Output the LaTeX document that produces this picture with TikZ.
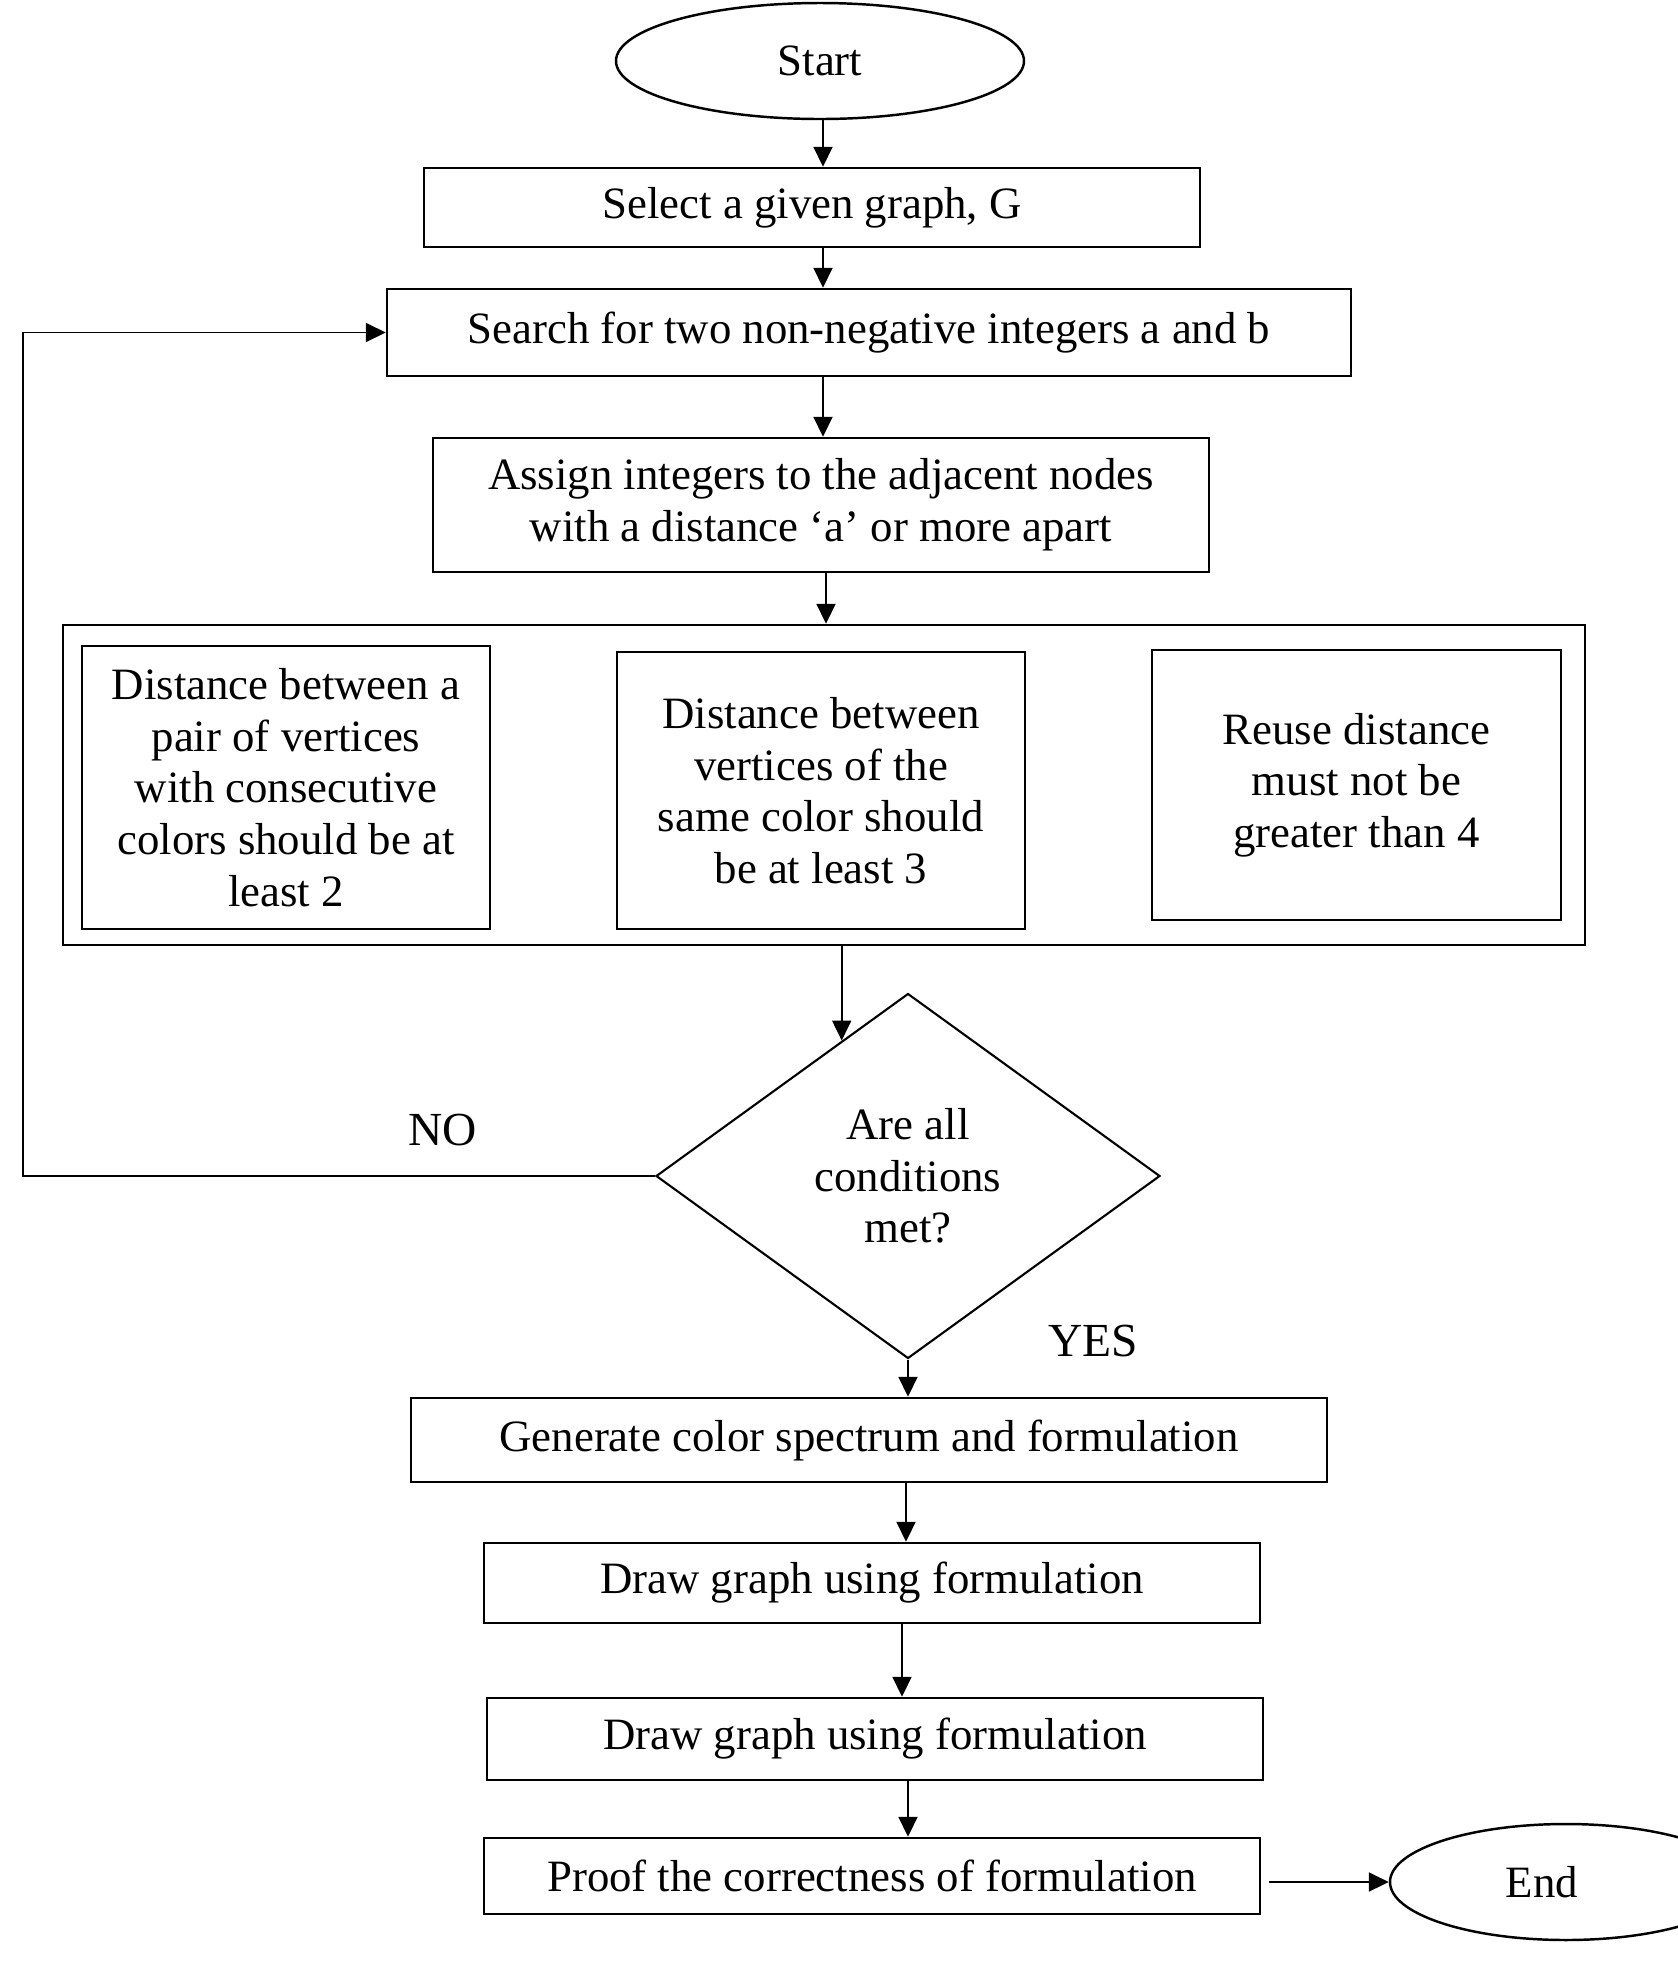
\documentclass[tikz,border=0pt]{standalone}
\usepackage{fontspec}
\setmainfont{Liberation Serif}
\usetikzlibrary{shapes.geometric,arrows.meta,calc}
\begin{document}
\begin{tikzpicture}[
  box/.style={draw, line width=1.4pt, rectangle, inner sep=0pt, align=center, font=\fontsize{25.5}{29.4}\selectfont},
  oval/.style={draw, line width=1.4pt, ellipse, inner sep=0pt, font=\fontsize{25.5}{29.4}\selectfont},
  decision/.style={draw, line width=1.2pt, diamond, inner sep=0pt, align=center, font=\fontsize{25.5}{29.4}\selectfont},
  lbl/.style={font=\fontsize{27}{30}\selectfont, inner sep=0pt},
  arr/.style={line width=1.1pt, -{Triangle[length=0.4cm,width=0.38cm]}}
]
\useasboundingbox (0,0) rectangle (33.56,-39.56);

\node[oval, minimum width=8.16cm, minimum height=2.32cm] (start) at (16.40,-1.22) {Start};
\node[box, minimum width=15.52cm, minimum height=1.58cm] (select) at (16.24,-4.15) {Select a given graph, G};
\node[box, minimum width=19.28cm, minimum height=1.74cm] (search) at (17.38,-6.65) {Search for two non-negative integers a and b};
\node[box, minimum width=15.52cm, minimum height=2.68cm] (assign) at (16.42,-10.10) {Assign integers to the adjacent nodes\\with a distance ‘a’ or more apart};
\node[box, minimum width=30.44cm, minimum height=6.40cm] (outer) at (16.48,-15.70) {};
\node[box, minimum width=8.16cm, minimum height=5.66cm] (c1) at (5.72,-15.75) {Distance between a\\pair of vertices\\with consecutive\\colors should be at\\least 2};
\node[box, minimum width=8.16cm, minimum height=5.54cm] (c2) at (16.42,-15.81) {Distance between\\vertices of the\\same color should\\be at least 3};
\node[box, minimum width=8.18cm, minimum height=5.40cm] (c3) at (27.13,-15.70) {Reuse distance\\must not be\\greater than 4};
\node[decision, minimum width=10.08cm, minimum height=7.30cm] (dec) at (18.16,-23.52) {Are all\\conditions\\met?};
\node[box, minimum width=18.32cm, minimum height=1.68cm] (gen) at (17.38,-28.80) {Generate color spectrum and formulation};
\node[box, minimum width=15.52cm, minimum height=1.60cm] (draw1) at (17.44,-31.66) {Draw graph using formulation};
\node[box, minimum width=15.52cm, minimum height=1.64cm] (draw2) at (17.50,-34.78) {Draw graph using formulation};
\node[box, minimum width=15.52cm, minimum height=1.52cm] (proof) at (17.44,-37.52) {Proof the correctness of formulation};
\node[oval, minimum width=7.04cm, minimum height=2.32cm] (end) at (31.32,-37.64) {End\kern0.96cm};

\node[lbl] (no) at (8.86,-22.60) {NO};
\node[lbl] (yes) at (21.86,-26.82) {YES};

\coordinate (ax) at (16.46,0);
\coordinate (bx) at (16.52,0);
\coordinate (lp) at (0.46,0);
\coordinate (m) at ($(dec.north)!0.262!(dec.west)$);

\draw[arr] (start.south -| ax) -- (select.north -| ax);
\draw[arr] (select.south -| ax) -- (search.north -| ax);
\draw[arr] (search.south -| ax) -- (assign.north -| ax);
\draw[arr] (assign.south -| bx) -- (outer.north -| bx);
\draw[arr] (outer.south -| m) -- (m);
\draw[arr] (dec.south) -- (dec.south |- gen.north);
\draw[arr] ([xshift=-0.04cm]dec.south |- gen.south) -- ([xshift=-0.04cm]dec.south |- draw1.north);
\draw[arr] ([xshift=-0.12cm]dec.south |- draw1.south) -- ([xshift=-0.12cm]dec.south |- draw2.north);
\draw[arr] (dec.south |- draw2.south) -- (dec.south |- proof.north);
\draw[arr] ([xshift=0.16cm]proof.east |- end.west) -- (end.west);
\draw[arr] (dec.west) -- (dec.west -| lp) -- (search.west -| lp) -- (search.west);
\end{tikzpicture}
\end{document}
